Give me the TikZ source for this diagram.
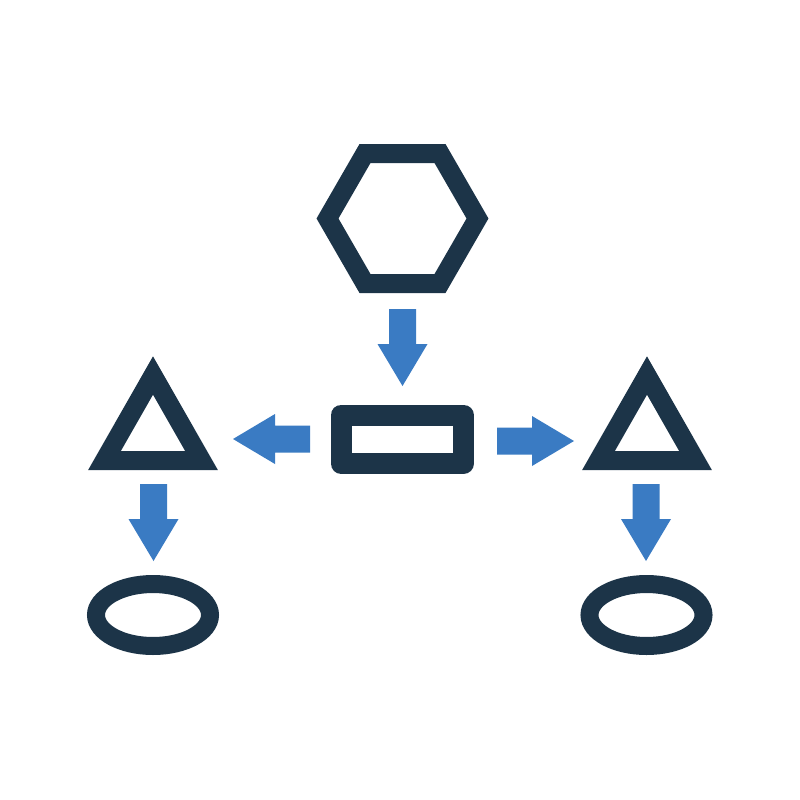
\documentclass[tikz,border=0pt]{standalone}
\usetikzlibrary{shapes.geometric}
\definecolor{navy}{HTML}{1C3448}
\definecolor{flowblue}{HTML}{3A7BC3}
\tikzset{
  outline/.style={draw=navy, line width=19pt, line join=miter, fill=none},
  boxshape/.style={draw=navy, line width=21pt, line join=round, rectangle, minimum width=122.5pt, minimum height=48.5pt, inner sep=0pt},
  ovalshape/.style={draw=navy, line width=18pt, ellipse, minimum width=114pt, minimum height=62pt, inner sep=0pt},
  blockarrow/.style={fill=flowblue}
}
\newcommand\blkarrow[2]{%
  \begin{scope}[shift={(#1)},rotate=#2]
    \fill[blockarrow] (0,-13.5) -- (35,-13.5) -- (35,-25) -- (77,0) -- (35,25) -- (35,13.5) -- (0,13.5) -- cycle;
  \end{scope}}
\begin{document}
\begin{tikzpicture}[x=1pt,y=-1pt]
  \useasboundingbox (0,0) rectangle (800,800);
  \fill[white] (0,0) rectangle (800,800);
  % hexagon
  \coordinate (hex) at (402.5,218.5);
  \draw[outline] (477.5,218.5) -- (440,153.5) -- (365,153.5) -- (327.5,218.5) -- (365,283.5) -- (440,283.5) -- cycle;
  % central box
  \node[boxshape] (box) at (402.25,439.25) {};
  % triangles
  \coordinate (triL) at (153,430);
  \coordinate (triR) at (647,430);
  \draw[outline] (153,375.5) -- (201.5,460.5) -- (104.5,460.5) -- cycle;
  \draw[outline] (647,375.5) -- (695.5,460.5) -- (598.5,460.5) -- cycle;
  % ovals
  \node[ovalshape] (ovalL) at (153,615) {};
  \node[ovalshape] (ovalR) at (646.5,615) {};
  % arrows
  \coordinate (aTop) at (402.5,309);
  \coordinate (aLeft) at (310,439);
  \coordinate (aRight) at (497,441);
  \coordinate (aDownL) at (153.5,484);
  \coordinate (aDownR) at (646,484);
  \blkarrow{aTop}{-90}
  \blkarrow{aLeft}{180}
  \blkarrow{aRight}{0}
  \blkarrow{aDownL}{-90}
  \blkarrow{aDownR}{-90}
\end{tikzpicture}
\end{document}
